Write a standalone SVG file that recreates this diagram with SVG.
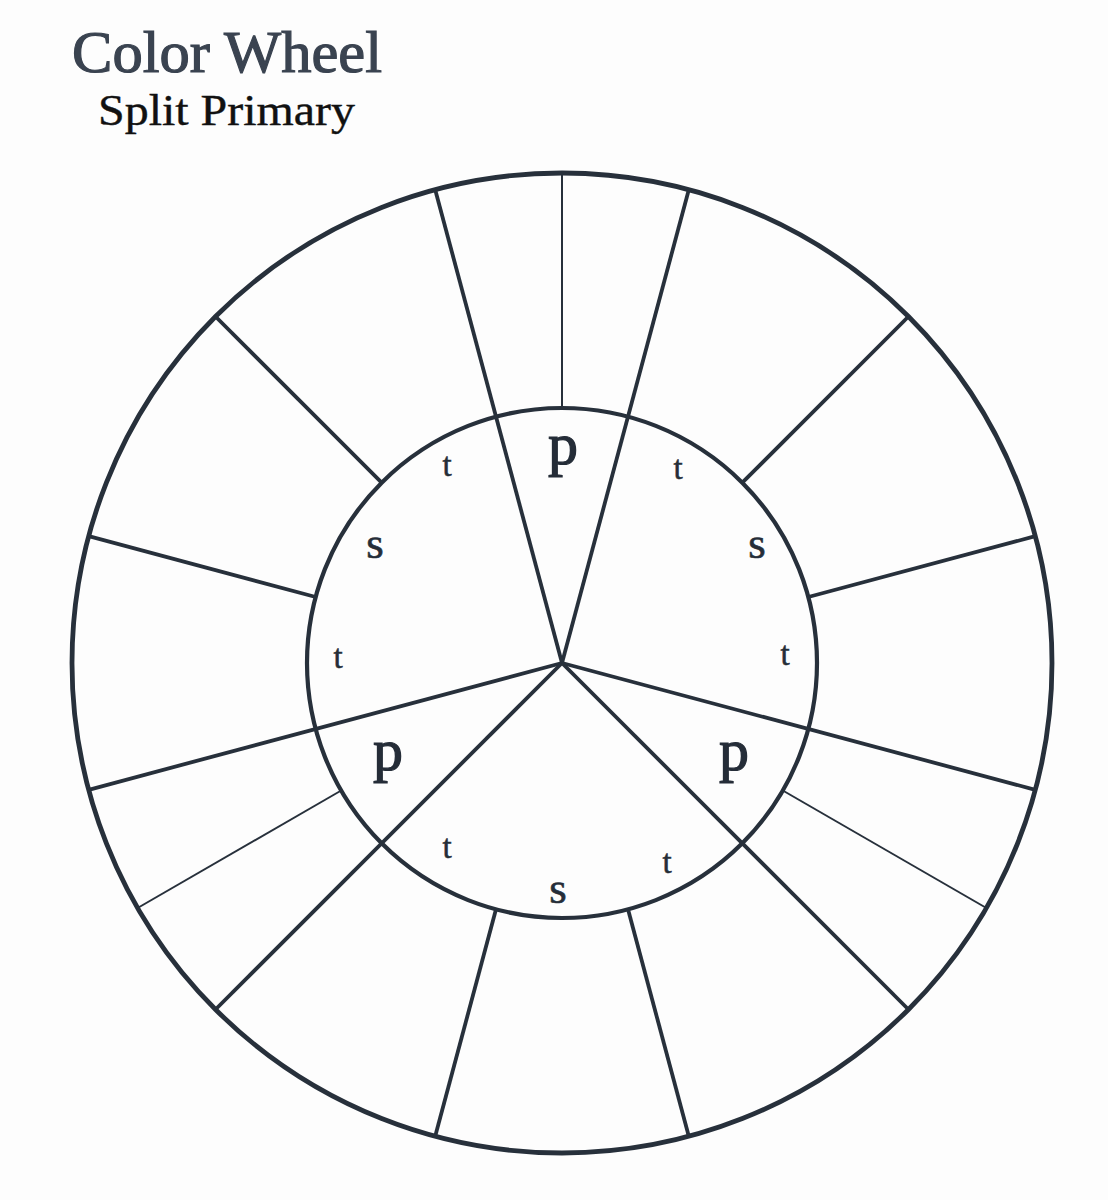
<svg xmlns="http://www.w3.org/2000/svg" width="1108" height="1200" viewBox="0 0 1108 1200">
<style>
.bg{fill:#fdfdfd}
.ring{fill:none;stroke:#27303b;stroke-width:4.8}
.inner{fill:none;stroke:#27303b;stroke-width:4.2}
.ln{stroke:#27303b;stroke-width:3.8;stroke-linecap:butt}
.thin{stroke:#27303b;stroke-width:2}
.lbl{font-family:"Liberation Serif","Times New Roman",serif;fill:#252d38;stroke:#252d38;text-anchor:middle}
.p{font-size:60px;stroke-width:1.2}
.s{font-size:45px;stroke-width:0.6}
.t{font-size:33px;stroke-width:0.5}
.ttl{font-family:"Liberation Serif","Times New Roman",serif}
</style>
<rect class="bg" x="0" y="0" width="1108" height="1200"/>
<g id="title">
<text class="ttl" x="72" y="72" font-size="60" fill="#3a4350" stroke="#3a4350" stroke-width="1.2" textLength="310" lengthAdjust="spacingAndGlyphs">Color Wheel</text>
<text class="ttl" x="98" y="125" font-size="44" fill="#111111" stroke="#111111" stroke-width="0.4" textLength="257" lengthAdjust="spacingAndGlyphs">Split Primary</text>
</g>
<g id="outer-circle"><circle class="ring" cx="562" cy="663" r="490"/></g>
<g id="inner-circle"><circle class="inner" cx="562" cy="663" r="255"/></g>
<g id="connectors">
<line class="ln" x1="562" y1="663" x2="688.8" y2="189.7"/>
<line class="ln" x1="562" y1="663" x2="435.2" y2="189.7"/>
<line class="ln" x1="562" y1="663" x2="88.7" y2="789.8"/>
<line class="ln" x1="562" y1="663" x2="215.5" y2="1009.5"/>
<line class="ln" x1="562" y1="663" x2="908.5" y2="1009.5"/>
<line class="ln" x1="562" y1="663" x2="1035.3" y2="789.8"/>
<line class="ln" x1="808.3" y1="597" x2="1035.3" y2="536.2"/>
<line class="ln" x1="742.3" y1="482.7" x2="908.5" y2="316.5"/>
<line class="ln" x1="381.7" y1="482.7" x2="215.5" y2="316.5"/>
<line class="ln" x1="315.7" y1="597" x2="88.7" y2="536.2"/>
<line class="ln" x1="496" y1="909.3" x2="435.2" y2="1136.3"/>
<line class="ln" x1="628" y1="909.3" x2="688.8" y2="1136.3"/>
<line class="thin" x1="562" y1="408" x2="562" y2="173"/>
<line class="thin" x1="341.2" y1="790.5" x2="137.6" y2="908"/>
<line class="thin" x1="782.8" y1="790.5" x2="986.4" y2="908"/>
</g>
<g id="labels">
<text class="lbl p" x="563" y="464">p</text>
<text class="lbl p" x="388" y="770">p</text>
<text class="lbl p" x="734" y="770">p</text>
<text class="lbl t" x="447" y="476">t</text>
<text class="lbl s" x="375" y="558">s</text>
<text class="lbl t" x="338" y="668">t</text>
<text class="lbl t" x="678" y="479">t</text>
<text class="lbl s" x="757" y="558">s</text>
<text class="lbl t" x="785" y="665">t</text>
<text class="lbl t" x="447" y="858">t</text>
<text class="lbl s" x="558" y="903">s</text>
<text class="lbl t" x="667" y="873">t</text>
</g>
</svg>
